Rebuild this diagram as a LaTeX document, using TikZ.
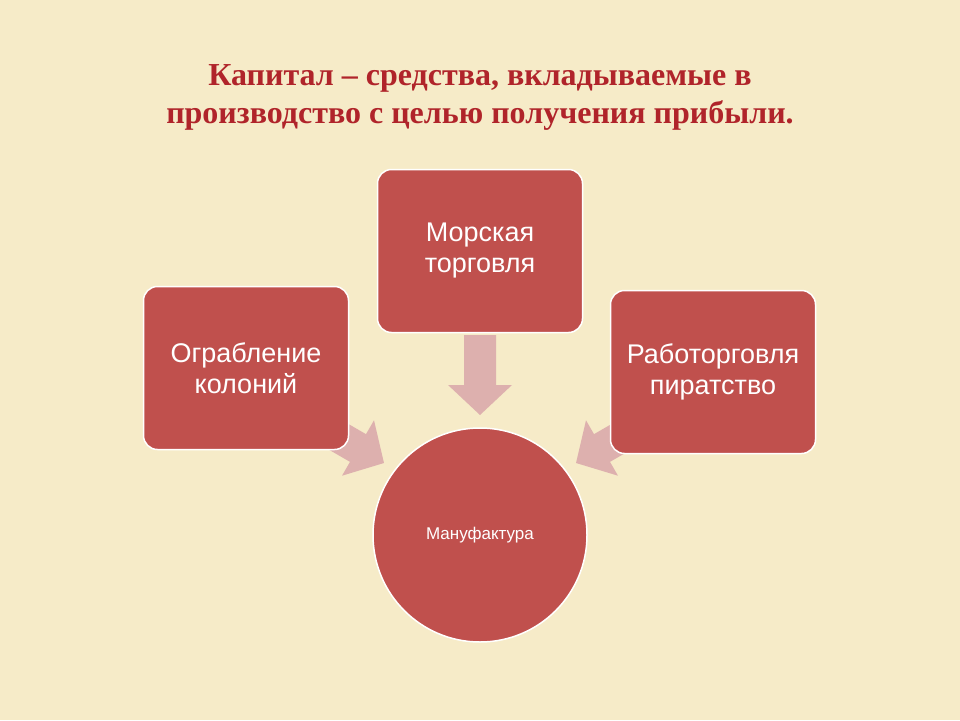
\documentclass[tikz,border=0pt]{standalone}
\usepackage{fontspec}
\setmainfont{Liberation Serif}
\newfontfamily\boxfont{Liberation Sans}
\definecolor{bg}{HTML}{F6EBC8}
\definecolor{ttl}{HTML}{B0242A}
\definecolor{boxc}{HTML}{C0504D}
\definecolor{arr}{HTML}{DDB0AE}
\tikzset{
 rbox/.style={draw=white,line width=1.5pt,fill=boxc,rounded corners=14pt,minimum width=205pt,minimum height=163pt,text=white,align=center,font=\boxfont\fontsize{27}{31}\selectfont},
 barrow/.style={fill=arr,draw=none}
}
\newcommand{\blockarrow}[3]{% center, angle, length
 \begin{scope}[shift={#1},rotate=#2]
 \fill[barrow] (-#3/2,-16) -- (#3/2-30,-16) -- (#3/2-30,-32) -- (#3/2,0) -- (#3/2-30,32) -- (#3/2-30,16) -- (-#3/2,16) -- cycle;
 \end{scope}}
\begin{document}
\begin{tikzpicture}[x=1pt,y=-1pt]
\fill[bg] (0,0) rectangle (960,720);
\node[text=ttl,font=\bfseries\fontsize{32}{38}\selectfont,align=center] (title) at (480,97) {Капитал – средства, вкладываемые в\\производство с целью получения прибыли.};
\blockarrow{(480,375)}{-90}{80}
\blockarrow{(358,448)}{-30}{60}
\blockarrow{(602,448)}{-150}{60}
\node[rbox] (b1) at (246,368) {Ограбление\\колоний};
\node[rbox] (b2) at (480,251) {Морская\\торговля};
\node[rbox] (b3) at (713,372) {Работорговля\\пиратство};
\node[circle,draw=white,line width=1.5pt,fill=boxc,minimum size=214pt,text=white,font=\boxfont\fontsize{17}{20}\selectfont] (m) at (480,535) {Мануфактура};
\end{tikzpicture}
\end{document}
